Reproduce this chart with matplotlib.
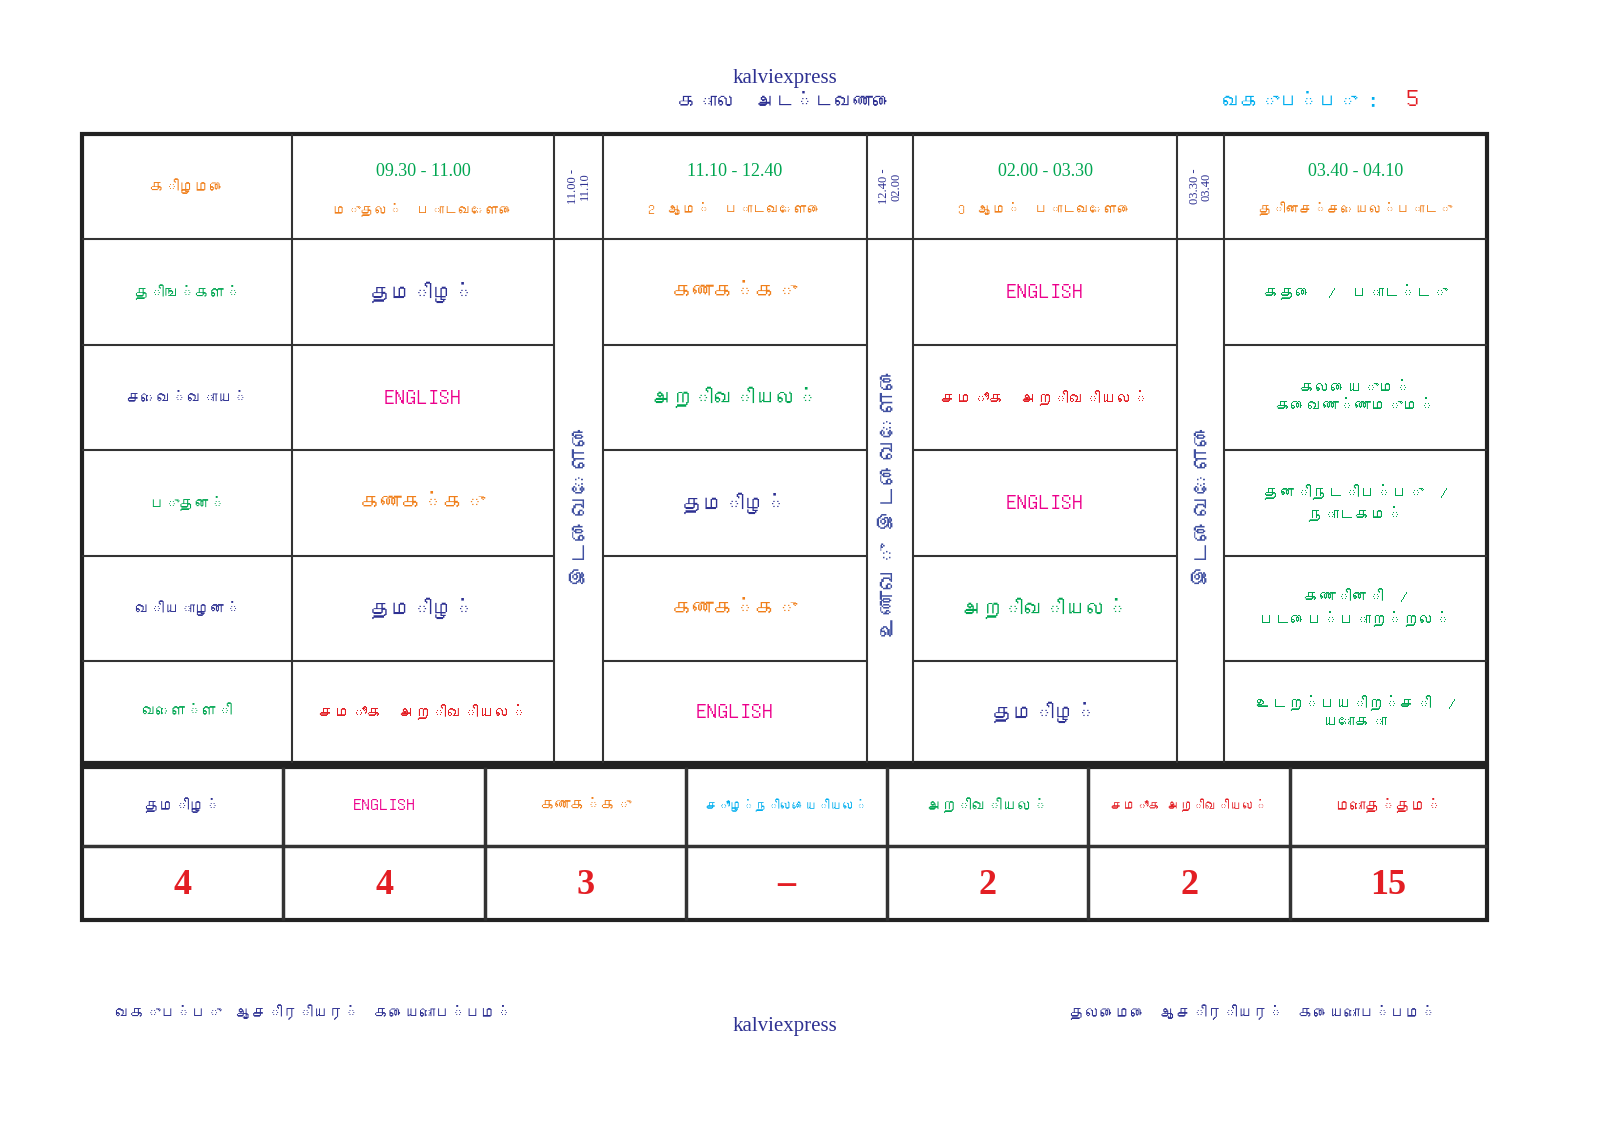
import matplotlib
matplotlib.use("Agg")
import matplotlib.pyplot as plt
from matplotlib import font_manager
from matplotlib.ft2font import FT2Font

# find a font that has Tamil glyphs, if any
tamil_font = None
for f in font_manager.findSystemFonts():
    try:
        if 0x0BA4 in FT2Font(f).get_charmap():
            tamil_font = font_manager.FontProperties(fname=f).get_name()
            break
    except Exception:
        pass
FAM = ([tamil_font] if tamil_font else []) + ["DejaVu Sans"]
SERIF = ["Liberation Serif"] + FAM

ORANGE = "#F07F1A"
GREEN = "#00A651"
NAVY = "#2E3192"
MAGENTA = "#EC008C"
RED = "#E31E24"
BLUE = "#00AEEF"

# data
days = ["திங்கள்", "செவ்வாய்", "புதன்", "வியாழன்", "வெள்ளி"]
day_colors = [GREEN, NAVY, GREEN, NAVY, GREEN]
period_times = ["09.30 - 11.00", "11.10 - 12.40", "02.00 - 03.30", "03.40 - 04.10"]
period_names = ["முதல்  பாடவேளை", "2  ஆம்  பாடவேளை", "3  ஆம்  பாடவேளை", "தினச்செயல்பாடு"]
break_times = ["11.00 -\n11.10", "12.40 -\n02.00", "03.30 -\n03.40"]
break_names = ["இடைவேளை", "உணவு இடைவேளை", "இடைவேளை"]
p1 = ["தமிழ்", "ENGLISH", "கணக்கு", "தமிழ்", "சமூக  அறிவியல்"]
p1c = [NAVY, MAGENTA, ORANGE, NAVY, RED]
p2 = ["கணக்கு", "அறிவியல்", "தமிழ்", "கணக்கு", "ENGLISH"]
p2c = [ORANGE, GREEN, NAVY, ORANGE, MAGENTA]
p3 = ["ENGLISH", "சமூக  அறிவியல்", "ENGLISH", "அறிவியல்", "தமிழ்"]
p3c = [MAGENTA, RED, MAGENTA, GREEN, NAVY]
p4 = ["கதை  /  பாட்டு", "கலையும்\nகைவண்ணமும்", "தனிநடிப்பு  /\nநாடகம்",
      "கணினி  /\nபடைப்பாற்றல்", "உடற்பயிற்சி  /\nயோகா"]
p4c = [GREEN, GREEN, GREEN, GREEN, GREEN]
subjects = ["தமிழ்", "ENGLISH", "கணக்கு", "சூழ்நிலையியல்", "அறிவியல்", "சமூக அறிவியல்", "மொத்தம்"]
subj_colors = [NAVY, MAGENTA, ORANGE, BLUE, GREEN, RED, RED]
counts = ["4", "4", "3", "–", "2", "2", "15"]

# layout (pixels)
cols = [82, 292, 554, 603, 867, 913, 1177, 1224, 1487]
rows = [134, 239, 345, 450, 556, 661, 763]
bcols = [82, 283, 485, 686, 887, 1088, 1290, 1487]
brows = [767, 846, 920]

fig = plt.figure(figsize=(16, 11.31), dpi=100)
ax = fig.add_axes([0, 0, 1, 1])
ax.set_xlim(0, 1600)
ax.set_ylim(1131, 0)
ax.axis("off")


def line(x0, y0, x1, y1, lw=1.5):
    ax.plot([x0, x1], [y0, y1], color="#333333", lw=lw, solid_capstyle="butt")


def txt(x, y, s, c, size, fam=FAM, **kw):
    ax.text(x, y, s, color=c, fontsize=size, family=fam, ha="center", va="center",
            fontweight="bold", linespacing=1.5, **kw)


# title
ax.text(785, 78, "kalviexpress", color=NAVY, fontsize=15, family=SERIF, ha="center", va="center")
txt(785, 101, "கால  அட்டவணை", NAVY, 14)
txt(1290, 101, "வகுப்பு", BLUE, 14)
txt(1372, 101, ":", BLUE, 15)
txt(1412, 98, "5", RED, 19)

# main table grid
ax.add_patch(plt.Rectangle((cols[0], rows[0]), cols[-1] - cols[0], rows[-1] - rows[0],
                           fill=False, lw=3, ec="#222222"))
for x in cols[1:-1]:
    line(x, rows[0], x, rows[-1])
subj_cols = [(0, 1), (1, 2), (3, 4), (5, 6), (7, 8)]
for y in rows[1:-1]:
    for a, b in subj_cols:
        line(cols[a], y, cols[b], y)
for a in [2, 4, 6]:
    line(cols[a], rows[1], cols[a + 1], rows[1])

# header
txt((cols[0] + cols[1]) / 2, (rows[0] + rows[1]) / 2, "கிழமை", ORANGE, 11)
pcols = [1, 3, 5, 7]
for i, c in enumerate(pcols):
    xc = (cols[c] + cols[c + 1]) / 2
    ax.text(xc, 171, period_times[i], color=GREEN, fontsize=13, family=SERIF,
            ha="center", va="center")
    txt(xc, 209, period_names[i], ORANGE, 10)
for i, c in enumerate([2, 4, 6]):
    xc = (cols[c] + cols[c + 1]) / 2
    ax.text(xc, (rows[0] + rows[1]) / 2, break_times[i], color=NAVY, fontsize=9,
            family=SERIF, ha="center", va="center", rotation=90, linespacing=1.0)
    ax.text(xc, (rows[1] + rows[-1]) / 2, break_names[i], color="#3F4FA0", fontsize=17,
            family=FAM, ha="center", va="center", rotation=90)

# body
for r in range(5):
    yc = (rows[r + 1] + rows[r + 2]) / 2
    txt((cols[0] + cols[1]) / 2, yc, days[r], day_colors[r], 11)
    for c, vals, colr in [(1, p1, p1c), (3, p2, p2c), (5, p3, p3c), (7, p4, p4c)]:
        s = vals[r]
        if s == "ENGLISH":
            size = 16
        elif c == 7 and "\n" in s:
            size = 11.5
        elif len(s) > 10:
            size = 11.5
        else:
            size = 15
        txt((cols[c] + cols[c + 1]) / 2, yc, s, colr[r], size)

# bottom table
ax.add_patch(plt.Rectangle((bcols[0], brows[0]), bcols[-1] - bcols[0], brows[-1] - brows[0],
                           fill=False, lw=3, ec="#222222"))
line(bcols[0], brows[1], bcols[-1], brows[1], lw=2.5)
for x in bcols[1:-1]:
    line(x, brows[0], x, brows[-1], lw=2.5)
for i in range(len(subjects)):
    xc = (bcols[i] + bcols[i + 1]) / 2
    size = 13 if subjects[i] == "ENGLISH" else (9 if len(subjects[i]) > 8 else 11)
    txt(xc, 805, subjects[i], subj_colors[i], size)
    ax.text(xc, 885, counts[i], color=RED, fontsize=26, family=SERIF,
            ha="center", va="center", fontweight="bold")

# footer
txt(313, 1012, "வகுப்பு  ஆசிரியர்  கையொப்பம்", NAVY, 11)
txt(1253, 1012, "தலைமை  ஆசிரியர்  கையொப்பம்", NAVY, 11)
ax.text(785, 1027, "kalviexpress", color=NAVY, fontsize=15, family=SERIF,
        ha="center", va="center")

fig.savefig("out.png", dpi=100)
